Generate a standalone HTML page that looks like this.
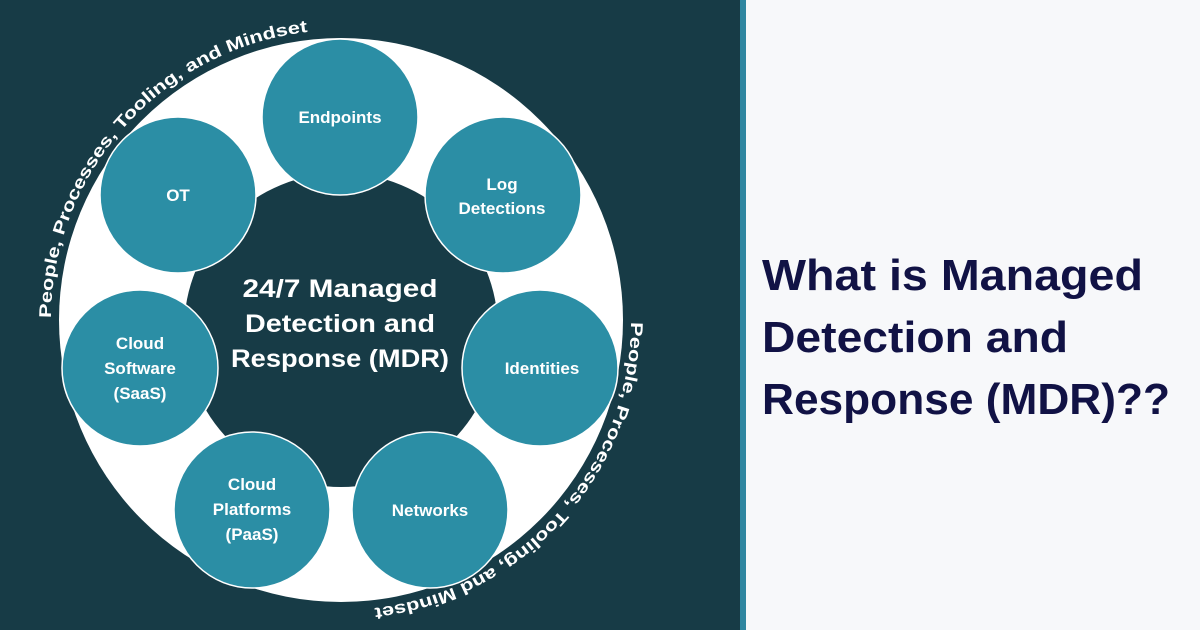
<!DOCTYPE html>
<html><head><meta charset="utf-8"><style>
html,body{margin:0;padding:0;width:1200px;height:630px;overflow:hidden;background:#f7f8fa}
svg{display:block}
</style></head><body>
<svg width="1200" height="630" viewBox="0 0 1200 630" xmlns="http://www.w3.org/2000/svg">
<rect x="0" y="0" width="1200" height="630" fill="#f7f8fa"/>
<rect x="0" y="0" width="741" height="630" fill="#173b46"/>
<rect x="740" y="0" width="6" height="630" fill="#2f86a0"/>
<circle cx="341" cy="320" r="282" fill="#ffffff"/>
<circle cx="341" cy="330" r="157" fill="#173b46"/>
<defs>
<path id="a1" d="M 51,322 A 290 290 0 0 1 341,30"/>
<path id="a2" d="M 631,318 A 290 290 0 0 1 341,610"/>
</defs>
<g font-family="Liberation Sans, sans-serif" font-weight="bold" font-size="17" fill="#ffffff">
<text><textPath href="#a1" startOffset="4" textLength="420" lengthAdjust="spacingAndGlyphs">People, Processes, Tooling, and Mindset</textPath></text>
<text><textPath href="#a2" startOffset="4" textLength="420" lengthAdjust="spacingAndGlyphs">People, Processes, Tooling, and Mindset</textPath></text>
</g>
<g fill="#2b8ea5" stroke="#ffffff" stroke-width="1.5">
<circle cx="340" cy="117" r="78"/>
<circle cx="503" cy="195" r="78"/>
<circle cx="540" cy="368" r="78"/>
<circle cx="430" cy="510" r="78"/>
<circle cx="252" cy="510" r="78"/>
<circle cx="140" cy="368" r="78"/>
<circle cx="178" cy="195" r="78"/>
</g>
<g font-family="Liberation Sans, sans-serif" font-weight="bold" font-size="17" fill="#ffffff" text-anchor="middle">
<text x="340" y="123">Endpoints</text>
<text x="502" y="190">Log</text>
<text x="502" y="214">Detections</text>
<text x="542" y="374">Identities</text>
<text x="430" y="516">Networks</text>
<text x="252" y="490">Cloud</text>
<text x="252" y="515">Platforms</text>
<text x="252" y="540">(PaaS)</text>
<text x="140" y="349">Cloud</text>
<text x="140" y="374">Software</text>
<text x="140" y="399">(SaaS)</text>
<text x="178" y="201">OT</text>
</g>
<g font-family="Liberation Sans, sans-serif" font-weight="bold" font-size="25" fill="#ffffff" text-anchor="middle">
<text x="340" y="297" textLength="195" lengthAdjust="spacingAndGlyphs">24/7 Managed</text>
<text x="340" y="332" textLength="190" lengthAdjust="spacingAndGlyphs">Detection and</text>
<text x="340" y="367" textLength="218" lengthAdjust="spacingAndGlyphs">Response (MDR)</text>
</g>
<g font-family="Liberation Sans, sans-serif" font-weight="bold" font-size="44" fill="#111245">
<text x="762" y="290" textLength="381" lengthAdjust="spacingAndGlyphs">What is Managed</text>
<text x="762" y="352" textLength="306" lengthAdjust="spacingAndGlyphs">Detection and</text>
<text x="762" y="414" textLength="408" lengthAdjust="spacingAndGlyphs">Response (MDR)??</text>
</g>
</svg>
</body></html>
